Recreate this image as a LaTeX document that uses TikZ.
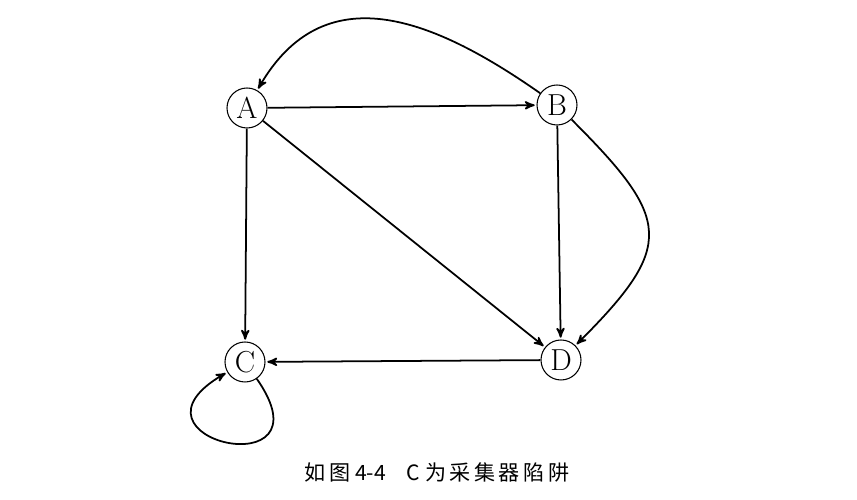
\documentclass[tikz,border=0pt]{standalone}
\usepackage{fontspec}
\newfontfamily\cjk{Noto Sans CJK SC}
\usetikzlibrary{arrows}

\begin{document}
\begin{tikzpicture}[->,>=stealth',shorten >=1pt,auto,line width=1pt,
                    main node/.style={circle,draw,semithick,inner sep=0pt,minimum size=0.8cm,font=\LARGE}]
  \useasboundingbox (0,0) rectangle (17.14,10);

  \node[main node] (A) at (4.94,7.84) {A};
  \node[main node] (B) at (11.14,7.90) {B};
  \node[main node] (C) at (4.90,2.76) {C};
  \node[main node] (D) at (11.22,2.80) {D};

  \path
    (A) edge node {} (B)
    (A) edge node {} (C)
    (A) edge node {} (D)
    (B) edge node {} (D)
    (D) edge node {} (C)
    (B) edge [out=145,in=60,looseness=1.2] node {} (A)
    (B) edge [out=-45,in=45,looseness=1.6] node {} (D)
    (C) edge [out=-55,in=210,distance=2.7cm] node {} (C)
;

  \node[font=\cjk\fontsize{12}{14}\selectfont] (cap) at (8.74,0.56) {如\,图 4-4\quad C 为\,采\,集\,器\,陷\,阱};
\end{tikzpicture}
\end{document}
